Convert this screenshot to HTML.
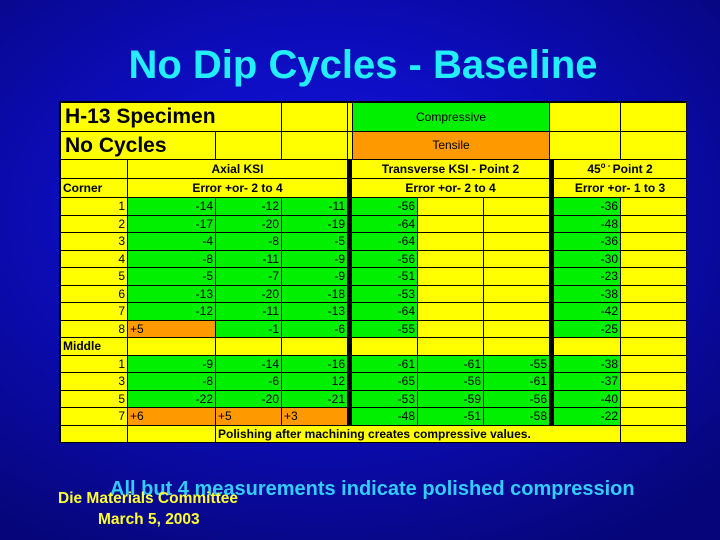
<!DOCTYPE html>
<html><head><meta charset="utf-8">
<style>
html,body{margin:0;padding:0}
body{width:720px;height:540px;overflow:hidden;position:relative;
background:radial-gradient(ellipse 75% 70% at 45% 40%,#1414e8 0%,#0c0cb8 50%,#06067a 100%);
font-family:"Liberation Sans",Arial,sans-serif}
#title{position:absolute;left:0;width:726px;top:41px;text-align:center;color:#22eeff;font-weight:bold;font-size:40px;line-height:48px}
#tbl{position:absolute;left:0;top:0}
.c{position:absolute;box-sizing:border-box;border:1px solid #000;font-size:12px;line-height:15px;white-space:nowrap;overflow:visible;padding:0 2px;color:#000}
.b{font-weight:bold}
#note{position:absolute;left:110px;top:477px;color:#33ccff;font-weight:bold;font-size:20px;line-height:24px;white-space:nowrap}
#comm{position:absolute;left:58px;top:490px;color:#ffff33;font-weight:bold;font-size:15.5px;line-height:18px;white-space:nowrap}
#date{position:absolute;left:98px;top:511px;color:#ffff33;font-weight:bold;font-size:15.5px;line-height:18px;white-space:nowrap}
</style></head>
<body>
<div id="title">No Dip Cycles - Baseline</div>
<div id="tbl"></div>
<div id="note">All but 4 measurements indicate polished compression</div>
<div id="comm">Die Materials Committee</div>
<div id="date">March 5, 2003</div>
<script>
var rowLabels=['1','2','3','4','5','6','7','8','Middle','1','3','5','7'];
var axial1=['-14','-17','-4','-8','-5','-13','-12','+5','','-9','-8','-22','+6'];
var axial2=['-12','-20','-8','-11','-7','-20','-11','-1','','-14','-6','-20','+5'];
var axial3=['-11','-19','-5','-9','-9','-18','-13','-6','','-16','12','-21','+3'];
var trans1=['-56','-64','-64','-56','-51','-53','-64','-55','','-61','-65','-53','-48'];
var trans2=['','','','','','','','','','-61','-56','-59','-51'];
var trans3=['','','','','','','','','','-55','-61','-56','-58'];
var deg45=['-36','-48','-36','-30','-23','-38','-42','-25','','-38','-37','-40','-22'];

var Y='#ffff00',G='#00f000',O='#ff9900';
var tbl=document.getElementById('tbl');
function cell(x1,x2,y1,y2,bg,text,align,bold,fs,name){
  var d=document.createElement('div');
  d.className='c'+(bold?' b':'');
  d.style.left=x1+'px';d.style.top=y1+'px';
  d.style.width=(x2-x1+1)+'px';d.style.height=(y2-y1+1)+'px';
  d.style.background=bg;d.style.textAlign=align||'left';
  if(fs){d.style.fontSize=fs+'px';}
  d.style.lineHeight=(y2-y1-1)+'px';
  d.textContent=text||'';
  
  
  tbl.appendChild(d);return d;
}
var fr=document.createElement('div');
fr.style.cssText='position:absolute;left:59px;top:101px;width:628px;height:342px;background:#000;';


tbl.appendChild(fr);
var t1=cell(60,281,102,131,Y,'H-13 Specimen','left',true,21,'specimen-title');
t1.style.paddingLeft='4px';
cell(281,347,102,131,Y,'','left',false,0,'blank-cell');
cell(347,352,102,131,Y,'','left',false,0,'blank-cell');
cell(352,549,102,131,G,'Compressive','center',false,12,'legend-compressive');
cell(549,620,102,131,Y,'','left',false,0,'blank-cell');
cell(620,686,102,131,Y,'','left',false,0,'blank-cell');
var t2=cell(60,215,131,159,Y,'No Cycles','left',true,21,'cycles-title');
t2.style.paddingLeft='4px';
cell(215,281,131,159,Y,'','left',false,0,'blank-cell');
cell(281,347,131,159,Y,'','left',false,0,'blank-cell');
cell(347,352,131,159,Y,'','left',false,0,'blank-cell');
cell(352,549,131,159,O,'Tensile','center',false,12,'legend-tensile');
cell(549,620,131,159,Y,'','left',false,0,'blank-cell');
cell(620,686,131,159,Y,'','left',false,0,'blank-cell');
cell(60,127,159,178,Y,'','left',false,0,'blank-cell');
cell(127,347,159,178,Y,'Axial KSI','center',true,12,'axial-header');
cell(351,549,159,178,Y,'Transverse KSI - Point  2','center',true,12,'transverse-header');
var h45=cell(553,686,159,178,Y,'','center',true,12,'deg45-header');
h45.innerHTML='45<sup style="font-size:8px;line-height:0">o - </sup>Point  2';
cell(60,127,178,197,Y,'Corner','left',true,12,'corner-header');
cell(127,347,178,197,Y,'Error +or-  2 to 4','center',true,12,'axial-error');
cell(351,549,178,197,Y,'Error +or-  2 to 4','center',true,12,'transverse-error');
cell(553,686,178,197,Y,'Error +or- 1 to 3','center',true,12,'deg45-error');
var RH=17.5;
function vcell(x1,x2,y1,y2,v,name){
  var bg=v===''?Y:(v.charAt(0)==='+'?O:G);
  cell(x1,x2,y1,y2,bg,v,v.charAt(0)==='+'?'left':'right',false,12,name);
}
for(var i=0;i<rowLabels.length;i++){
  var y1=Math.round(197+RH*i),y2=Math.round(197+RH*(i+1));
  var mid=rowLabels[i]==='Middle';
  cell(60,127,y1,y2,Y,rowLabels[i],mid?'left':'right',mid,12,'row-label');
  if(axial1[i].charAt(0)==='+'&&axial2[i].charAt(0)!=='+'){
    cell(127,215,y1,y2,O,axial1[i],'left',false,12,'axial-value');
  } else vcell(127,215,y1,y2,axial1[i],'axial-value');
  vcell(215,281,y1,y2,axial2[i],'axial-value');
  vcell(281,347,y1,y2,axial3[i],'axial-value');
  vcell(351,417,y1,y2,trans1[i],'transverse-value');
  vcell(417,483,y1,y2,trans2[i],'transverse-value');
  vcell(483,549,y1,y2,trans3[i],'transverse-value');
  vcell(553,620,y1,y2,deg45[i],'deg45-value');
  cell(620,686,y1,y2,Y,'','left',false,0,'blank-cell');
}
var ty2=Math.round(197+RH*rowLabels.length);
[347,549].forEach(function(x){
  var s=document.createElement('div');
  s.style.cssText='position:absolute;left:'+x+'px;top:159px;width:5px;height:'+(ty2-159)+'px;background:#000;';
  
  
  tbl.appendChild(s);
});
cell(60,127,ty2,442,Y,'','left',false,0,'blank-cell');
cell(127,215,ty2,442,Y,'','left',false,0,'blank-cell');
cell(215,620,ty2,442,Y,'Polishing after machining creates compressive values.','left',true,12,'footnote');
cell(620,686,ty2,442,Y,'','left',false,0,'blank-cell');
</script>
</body></html>
